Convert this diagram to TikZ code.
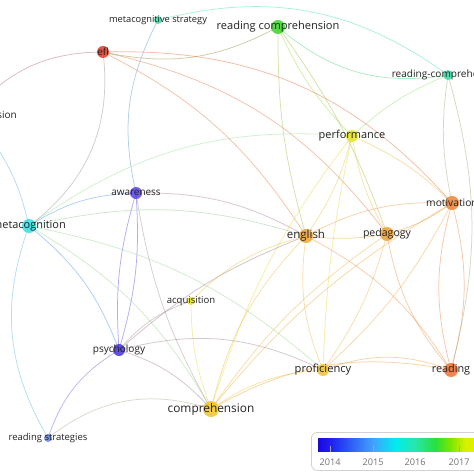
\documentclass[tikz,border=0pt]{standalone}
\usepackage{fontspec}
\setmainfont{Open Sans}
\usepackage{xcolor}
\usetikzlibrary{backgrounds}
\definecolor{cefl}{HTML}{E03A28}
\definecolor{cmcs}{HTML}{3CDCA8}
\definecolor{crc}{HTML}{3CD42C}
\definecolor{crcomp}{HTML}{34DCA4}
\definecolor{cperf}{HTML}{E6E424}
\definecolor{caware}{HTML}{5844E4}
\definecolor{cmetacog}{HTML}{30E0E4}
\definecolor{ceng}{HTML}{F0A434}
\definecolor{cpeda}{HTML}{F0A034}
\definecolor{cmotiv}{HTML}{F08434}
\definecolor{cacq}{HTML}{E6E424}
\definecolor{cpsych}{HTML}{4830E0}
\definecolor{cprof}{HTML}{F0C434}
\definecolor{cread}{HTML}{F07034}
\definecolor{ccompr}{HTML}{F0C428}
\definecolor{crstrat}{HTML}{6484E4}
\definecolor{coffs}{HTML}{7078E0}
\definecolor{Ink}{HTML}{222222}
\definecolor{yA}{HTML}{1A0ADC}
\definecolor{yB}{HTML}{1E20F0}
\definecolor{yC}{HTML}{40A4FA}
\definecolor{yD}{HTML}{00ECF0}
\definecolor{yE}{HTML}{28E6AA}
\definecolor{yF}{HTML}{28E03C}
\definecolor{yG}{HTML}{7CE600}
\definecolor{yH}{HTML}{D8F000}
\definecolor{yI}{HTML}{F0EA00}
\pgfdeclarehorizontalshading{yearbar}{100bp}{color(0bp)=(yA); color(25bp)=(yA);
  color(28.5bp)=(yB); color(41bp)=(yC); color(47.4bp)=(yD); color(53.2bp)=(yE);
  color(59bp)=(yF); color(63.4bp)=(yG); color(67.7bp)=(yH); color(75bp)=(yI); color(100bp)=(yI)}

\begin{document}
\begin{tikzpicture}[x=1bp,y=-1bp,
  dot/.style={circle,inner sep=0pt,fill=#1,opacity=0.85,draw=none},
  lbl/.style={text=Ink,inner sep=0pt,opacity=1},
  link/.style 2 args={draw=#1!50!#2,line width=0.75bp,opacity=0.42},
  tick/.style={draw=gray!70,line width=0.6bp}]
  \useasboundingbox (0,0) rectangle (474,474);
  \clip (0,0) rectangle (474,474);

  % keywords
  \node[dot=cmcs,minimum size=8bp,label={[lbl,font=\fontsize{9.3}{9.3}\selectfont]center:metacognitive strategy}] (mcs) at (158,20) {};
  \node[dot=crc,minimum size=14bp,label={[lbl,font=\fontsize{11.1}{11.1}\selectfont]center:reading comprehension}] (rc) at (278,27) {};
  \node[dot=cefl,minimum size=12bp,label={[lbl,font=\fontsize{10}{10}\selectfont]center:efl}] (efl) at (103,52) {};
  \node[dot=crcomp,minimum size=10bp,label={[lbl,font=\fontsize{10.1}{10.1}\selectfont]center:reading-comprehension}] (rcomp) at (448,75) {};
  \node[lbl,anchor=east,font=\fontsize{10}{10}\selectfont] (sion) at (17,115) {sion};
  \coordinate (offs) at (-30,115);
  \node[dot=cperf,minimum size=12bp,label={[lbl,font=\fontsize{11}{11}\selectfont]center:performance}] (perf) at (352,136) {};
  \node[dot=caware,minimum size=12bp,label={[lbl,font=\fontsize{10}{10}\selectfont]center:awareness}] (aware) at (136,193) {};
  \node[dot=cmetacog,minimum size=14bp,label={[lbl,font=\fontsize{11}{11}\selectfont]center:metacognition}] (metacog) at (29,226) {};
  \node[dot=ceng,minimum size=14bp,label={[lbl,font=\fontsize{11.5}{11.5}\selectfont]center:english}] (eng) at (306,236) {};
  \node[dot=cpeda,minimum size=14bp,label={[lbl,font=\fontsize{10.6}{10.6}\selectfont]center:pedagogy}] (peda) at (387,234) {};
  \node[dot=cmotiv,minimum size=14bp,label={[lbl,font=\fontsize{10.3}{10.3}\selectfont]center:motivation}] (motiv) at (452,203) {};
  \node[dot=cacq,minimum size=8bp,label={[lbl,font=\fontsize{9.6}{9.6}\selectfont]center:acquisition}] (acq) at (191,301) {};
  \node[dot=cpsych,minimum size=12bp,label={[lbl,font=\fontsize{10.1}{10.1}\selectfont]center:psychology}] (psych) at (119,350) {};
  \node[dot=cprof,minimum size=12bp,label={[lbl,font=\fontsize{11.2}{11.2}\selectfont]center:proficiency}] (prof) at (323,370) {};
  \node[dot=cread,minimum size=14bp,label={[lbl,font=\fontsize{10.9}{10.9}\selectfont]center:reading}] (read) at (451,370) {};
  \node[dot=ccompr,minimum size=16bp,label={[lbl,font=\fontsize{11.9}{11.9}\selectfont]center:comprehension}] (compr) at (211,409) {};
  \node[dot=crstrat,minimum size=8bp,label={[lbl,font=\fontsize{9.5}{9.5}\selectfont]center:reading strategies}] (rstrat) at (48,438) {};

  % links
  \begin{scope}[on background layer]
    \fill[white] (0,0) rectangle (474,474);
    \draw[link={cefl}{coffs}] (efl.center) to[bend right=25] (offs);
    \draw[link={cefl}{cmetacog}] (efl.center) to[bend left=30] (metacog.center);
    \draw[link={cefl}{crc}] (efl.center) to[bend right=20] (rc.center);
    \draw[link={cefl}{cmotiv}] (efl.center) to[bend left=25] (motiv.center);
    \draw[link={cefl}{ceng}] (efl.center) to[bend left=15] (eng.center);
    \draw[link={cefl}{cpeda}] (efl.center) to[bend left=20] (peda.center);
    \draw[link={cmcs}{caware}] (mcs.center) to[bend right=20] (aware.center);
    \draw[link={cmcs}{crcomp}] (mcs.center) to[bend left=25] (rcomp.center);
    \draw[link={crc}{crcomp}] (rc.center) to[bend right=25] (rcomp.center);
    \draw[link={crc}{cperf}] (rc.center) to[bend right=10] (perf.center);
    \draw[link={crc}{ceng}] (rc.center) to[bend right=8] (eng.center);
    \draw[link={crc}{cpeda}] (rc.center) to[bend left=8] (peda.center);
    \draw[link={crcomp}{cperf}] (rcomp.center) to[bend right=10] (perf.center);
    \draw[link={crcomp}{cmotiv}] (rcomp.center) to[bend right=10] (motiv.center);
    \draw[link={crcomp}{cread}] (rcomp.center) to[bend left=15] (read.center);
    \draw[link={cperf}{ceng}] (perf.center) to[bend left=10] (eng.center);
    \draw[link={cperf}{cpeda}] (perf.center) to[bend right=10] (peda.center);
    \draw[link={cperf}{ccompr}] (perf.center) to[bend right=10] (compr.center);
    \draw[link={cperf}{cmotiv}] (perf.center) to[bend left=10] (motiv.center);
    \draw[link={cperf}{cmetacog}] (perf.center) to[bend right=20] (metacog.center);
    \draw[link={cperf}{cprof}] (perf.center) to[bend right=5] (prof.center);
    \draw[link={caware}{cpsych}] (aware.center) to[bend left=10] (psych.center);
    \draw[link={caware}{cpsych}] (aware.center) to[bend right=10] (psych.center);
    \draw[link={caware}{cmetacog}] (aware.center) to[bend right=15] (metacog.center);
    \draw[link={caware}{ceng}] (aware.center) to[bend left=15] (eng.center);
    \draw[link={caware}{ccompr}] (aware.center) to[bend right=10] (compr.center);
    \draw[link={cmetacog}{coffs}] (metacog.center) to[bend right=15] (offs);
    \draw[link={cmetacog}{crstrat}] (metacog.center) to[bend right=25] (rstrat.center);
    \draw[link={cmetacog}{cpsych}] (metacog.center) to[bend left=15] (psych.center);
    \draw[link={cmetacog}{ccompr}] (metacog.center) to[bend left=15] (compr.center);
    \draw[link={cmetacog}{cprof}] (metacog.center) to[bend left=15] (prof.center);
    \draw[link={cmetacog}{ceng}] (metacog.center) to[bend left=15] (eng.center);
    \draw[link={cpsych}{crstrat}] (psych.center) to[bend right=20] (rstrat.center);
    \draw[link={cpsych}{ccompr}] (psych.center) to[bend left=15] (compr.center);
    \draw[link={cpsych}{cacq}] (psych.center) to[bend left=15] (acq.center);
    \draw[link={cpsych}{cprof}] (psych.center) to[bend left=20] (prof.center);
    \draw[link={cpsych}{ceng}] (psych.center) to[bend left=10] (eng.center);
    \draw[link={crstrat}{ccompr}] (rstrat.center) to[bend left=28] (compr.center);
    \draw[link={ccompr}{cacq}] (compr.center) to[bend left=10] (acq.center);
    \draw[link={ccompr}{ceng}] (compr.center) to[bend left=15] (eng.center);
    \draw[link={ccompr}{cpeda}] (compr.center) to[bend left=10] (peda.center);
    \draw[link={ccompr}{cprof}] (compr.center) to[bend left=15] (prof.center);
    \draw[link={ccompr}{cread}] (compr.center) to[bend left=20] (read.center);
    \draw[link={ccompr}{cmotiv}] (compr.center) to[bend left=10] (motiv.center);
    \draw[link={cprof}{ceng}] (prof.center) to[bend left=15] (eng.center);
    \draw[link={cprof}{cpeda}] (prof.center) to[bend right=10] (peda.center);
    \draw[link={cprof}{cread}] (prof.center) to[bend left=20] (read.center);
    \draw[link={cprof}{cmotiv}] (prof.center) to[bend right=10] (motiv.center);
    \draw[link={cread}{ceng}] (read.center) to[bend right=15] (eng.center);
    \draw[link={cread}{cpeda}] (read.center) to[bend left=15] (peda.center);
    \draw[link={cread}{cmotiv}] (read.center) to[bend left=15] (motiv.center);
    \draw[link={cread}{cmotiv}] (read.center) to[bend right=15] (motiv.center);
    \draw[link={cmotiv}{ceng}] (motiv.center) to[bend right=15] (eng.center);
    \draw[link={cmotiv}{cpeda}] (motiv.center) to[bend left=10] (peda.center);
    \draw[link={ceng}{cpeda}] (eng.center) to[bend right=8] (peda.center);
    \draw[link={cacq}{ceng}] (acq.center) to[bend left=15] (eng.center);
  \end{scope}

  % legend
  \node[draw=gray!35,line width=0.8bp,rounded corners=6bp,minimum width=180bp,minimum height=38bp,anchor=north west] (legend) at (311,432) {};
  \node[shading=yearbar,minimum width=172bp,minimum height=13bp,inner sep=0pt,anchor=north west] (bar) at (318,438) {};
  \foreach \yr/\xx in {2014/330,2015/373,2016/415,2017/459} {
    \draw[tick] (\xx,446) -- (\xx,452);
    \node[lbl,text=gray!90!black,font=\fontsize{9.2}{9.2}\selectfont] (yr\yr) at (\xx,462) {\yr};
  }
\end{tikzpicture}
\end{document}
